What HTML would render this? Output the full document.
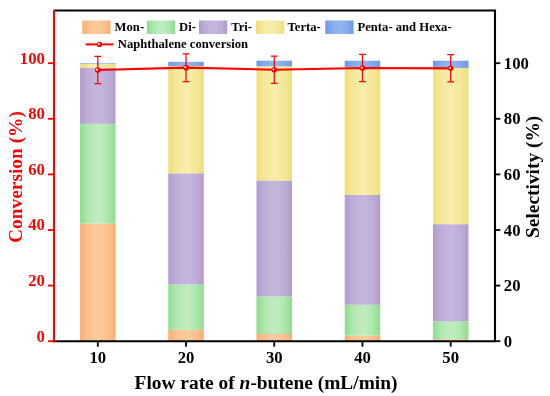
<!DOCTYPE html>
<html><head><meta charset="utf-8"><title>chart</title>
<style>
html,body{margin:0;padding:0;background:#fff;}
svg{display:block;}
text{font-family:"Liberation Serif","Times New Roman",serif;font-weight:bold;}
</style></head><body>
<svg width="550" height="396" viewBox="0 0 550 396">
<defs>
<linearGradient id="go" x1="0" x2="1" y1="0" y2="0"><stop offset="0" stop-color="#FAAD72"/><stop offset="0.2" stop-color="#FBBF8B"/><stop offset="0.43" stop-color="#FCCA9A"/><stop offset="0.57" stop-color="#FCCA9A"/><stop offset="0.8" stop-color="#FBBF8B"/><stop offset="1" stop-color="#FAAD72"/></linearGradient>
<linearGradient id="gg" x1="0" x2="1" y1="0" y2="0"><stop offset="0" stop-color="#8EDC8E"/><stop offset="0.2" stop-color="#ACE6AC"/><stop offset="0.43" stop-color="#BEECBE"/><stop offset="0.57" stop-color="#BEECBE"/><stop offset="0.8" stop-color="#ACE6AC"/><stop offset="1" stop-color="#8EDC8E"/></linearGradient>
<linearGradient id="gp" x1="0" x2="1" y1="0" y2="0"><stop offset="0" stop-color="#B09CCD"/><stop offset="0.2" stop-color="#BDACD6"/><stop offset="0.43" stop-color="#C5B5DC"/><stop offset="0.57" stop-color="#C5B5DC"/><stop offset="0.8" stop-color="#BDACD6"/><stop offset="1" stop-color="#B09CCD"/></linearGradient>
<linearGradient id="gy" x1="0" x2="1" y1="0" y2="0"><stop offset="0" stop-color="#EFDE79"/><stop offset="0.2" stop-color="#F4E796"/><stop offset="0.43" stop-color="#F7EDA7"/><stop offset="0.57" stop-color="#F7EDA7"/><stop offset="0.8" stop-color="#F4E796"/><stop offset="1" stop-color="#EFDE79"/></linearGradient>
<linearGradient id="gb" x1="0" x2="1" y1="0" y2="0"><stop offset="0" stop-color="#6A97E6"/><stop offset="0.2" stop-color="#82A9EC"/><stop offset="0.43" stop-color="#90B4EF"/><stop offset="0.57" stop-color="#90B4EF"/><stop offset="0.8" stop-color="#82A9EC"/><stop offset="1" stop-color="#6A97E6"/></linearGradient>
<radialGradient id="ball" cx="0.36" cy="0.42" r="0.5"><stop offset="0" stop-color="#fff"/><stop offset="0.2" stop-color="#fff"/><stop offset="0.5" stop-color="#f00"/><stop offset="1" stop-color="#f00"/></radialGradient>
</defs>
<rect width="550" height="396" fill="#fff"/>
<rect x="80.05" y="223.61" width="35.50" height="117.59" fill="url(#go)"/>
<rect x="80.05" y="123.80" width="35.50" height="99.80" fill="url(#gg)"/>
<rect x="80.05" y="67.65" width="35.50" height="56.16" fill="url(#gp)"/>
<rect x="80.05" y="63.89" width="35.50" height="3.75" fill="url(#gy)"/>
<rect x="80.05" y="63.20" width="35.50" height="0.69" fill="url(#gb)"/>
<rect x="168.27" y="329.80" width="35.50" height="11.40" fill="url(#go)"/>
<rect x="168.27" y="284.49" width="35.50" height="45.31" fill="url(#gg)"/>
<rect x="168.27" y="173.29" width="35.50" height="111.20" fill="url(#gp)"/>
<rect x="168.27" y="65.98" width="35.50" height="107.31" fill="url(#gy)"/>
<rect x="168.27" y="61.81" width="35.50" height="4.17" fill="url(#gb)"/>
<rect x="256.50" y="333.97" width="35.50" height="7.23" fill="url(#go)"/>
<rect x="256.50" y="296.44" width="35.50" height="37.53" fill="url(#gg)"/>
<rect x="256.50" y="180.52" width="35.50" height="115.93" fill="url(#gp)"/>
<rect x="256.50" y="66.26" width="35.50" height="114.26" fill="url(#gy)"/>
<rect x="256.50" y="60.70" width="35.50" height="5.56" fill="url(#gb)"/>
<rect x="344.73" y="335.64" width="35.50" height="5.56" fill="url(#go)"/>
<rect x="344.73" y="304.78" width="35.50" height="30.86" fill="url(#gg)"/>
<rect x="344.73" y="194.97" width="35.50" height="109.81" fill="url(#gp)"/>
<rect x="344.73" y="67.09" width="35.50" height="127.88" fill="url(#gy)"/>
<rect x="344.73" y="60.70" width="35.50" height="6.39" fill="url(#gb)"/>
<rect x="432.95" y="339.25" width="35.50" height="1.95" fill="url(#go)"/>
<rect x="432.95" y="321.46" width="35.50" height="17.79" fill="url(#gg)"/>
<rect x="432.95" y="224.16" width="35.50" height="97.30" fill="url(#gp)"/>
<rect x="432.95" y="67.93" width="35.50" height="156.24" fill="url(#gy)"/>
<rect x="432.95" y="60.70" width="35.50" height="7.23" fill="url(#gb)"/>
<path d="M54.0 10.5 H495.0 V341.2" fill="none" stroke="#000" stroke-width="2.1" stroke-linejoin="miter"/>
<path d="M53.0 341.2 H496.0" fill="none" stroke="#000" stroke-width="2.1"/>
<path d="M54.0 9.9 V342.2" fill="none" stroke="#f00" stroke-width="2.1"/>
<path d="M48.0 341.20 H54.0" stroke="#f00" stroke-width="1.8"/>
<path d="M495.0 341.20 H500.3" stroke="#000" stroke-width="1.8"/>
<text x="44.9" y="341.60" font-size="16.7" text-anchor="end" fill="#f00">0</text>
<text x="503.8" y="346.70" font-size="16.7" text-anchor="start" fill="#000">0</text>
<path d="M48.0 285.60 H54.0" stroke="#f00" stroke-width="1.8"/>
<path d="M495.0 285.60 H500.3" stroke="#000" stroke-width="1.8"/>
<text x="44.9" y="286.00" font-size="16.7" text-anchor="end" fill="#f00">20</text>
<text x="503.8" y="291.10" font-size="16.7" text-anchor="start" fill="#000">20</text>
<path d="M48.0 230.00 H54.0" stroke="#f00" stroke-width="1.8"/>
<path d="M495.0 230.00 H500.3" stroke="#000" stroke-width="1.8"/>
<text x="44.9" y="230.40" font-size="16.7" text-anchor="end" fill="#f00">40</text>
<text x="503.8" y="235.50" font-size="16.7" text-anchor="start" fill="#000">40</text>
<path d="M48.0 174.40 H54.0" stroke="#f00" stroke-width="1.8"/>
<path d="M495.0 174.40 H500.3" stroke="#000" stroke-width="1.8"/>
<text x="44.9" y="174.80" font-size="16.7" text-anchor="end" fill="#f00">60</text>
<text x="503.8" y="179.90" font-size="16.7" text-anchor="start" fill="#000">60</text>
<path d="M48.0 118.80 H54.0" stroke="#f00" stroke-width="1.8"/>
<path d="M495.0 118.80 H500.3" stroke="#000" stroke-width="1.8"/>
<text x="44.9" y="119.20" font-size="16.7" text-anchor="end" fill="#f00">80</text>
<text x="503.8" y="124.30" font-size="16.7" text-anchor="start" fill="#000">80</text>
<path d="M48.0 63.20 H54.0" stroke="#f00" stroke-width="1.8"/>
<path d="M495.0 63.20 H500.3" stroke="#000" stroke-width="1.8"/>
<text x="44.9" y="63.60" font-size="16.7" text-anchor="end" fill="#f00">100</text>
<text x="503.8" y="68.70" font-size="16.7" text-anchor="start" fill="#000">100</text>
<path d="M97.8 341.2 V346.7" stroke="#000" stroke-width="1.8"/>
<text x="97.8" y="363.40" font-size="16.7" text-anchor="middle" fill="#000">10</text>
<path d="M186.02 341.2 V346.7" stroke="#000" stroke-width="1.8"/>
<text x="186.02" y="363.40" font-size="16.7" text-anchor="middle" fill="#000">20</text>
<path d="M274.25 341.2 V346.7" stroke="#000" stroke-width="1.8"/>
<text x="274.25" y="363.40" font-size="16.7" text-anchor="middle" fill="#000">30</text>
<path d="M362.48 341.2 V346.7" stroke="#000" stroke-width="1.8"/>
<text x="362.48" y="363.40" font-size="16.7" text-anchor="middle" fill="#000">40</text>
<path d="M450.7 341.2 V346.7" stroke="#000" stroke-width="1.8"/>
<text x="450.7" y="363.40" font-size="16.7" text-anchor="middle" fill="#000">50</text>
<polyline points="97.80,70.01 186.02,67.65 274.25,69.76 362.48,68.06 450.70,68.34" fill="none" stroke="#f00" stroke-width="2.1"/>
<path d="M97.8 56.39 V83.63 M94.39999999999999 56.39 H101.2 M94.39999999999999 83.63 H101.2" stroke="#f00" stroke-width="1.25" fill="none"/>
<circle cx="97.8" cy="70.01" r="2.8" fill="url(#ball)"/>
<path d="M186.02 53.75 V81.55 M182.62 53.75 H189.42000000000002 M182.62 81.55 H189.42000000000002" stroke="#f00" stroke-width="1.25" fill="none"/>
<circle cx="186.02" cy="67.65" r="2.8" fill="url(#ball)"/>
<path d="M274.25 56.14 V83.38 M270.85 56.14 H277.65 M270.85 83.38 H277.65" stroke="#f00" stroke-width="1.25" fill="none"/>
<circle cx="274.25" cy="69.76" r="2.8" fill="url(#ball)"/>
<path d="M362.48 54.44 V81.69 M359.08000000000004 54.44 H365.88 M359.08000000000004 81.69 H365.88" stroke="#f00" stroke-width="1.25" fill="none"/>
<circle cx="362.48" cy="68.06" r="2.8" fill="url(#ball)"/>
<path d="M450.7 54.72 V81.97 M447.3 54.72 H454.09999999999997 M447.3 81.97 H454.09999999999997" stroke="#f00" stroke-width="1.25" fill="none"/>
<circle cx="450.7" cy="68.34" r="2.8" fill="url(#ball)"/>
<rect x="82.3" y="20.5" width="28.2" height="13.5" fill="url(#go)"/>
<text x="114.6" y="31.1" font-size="12.65" fill="#000">Mon-</text>
<rect x="146.9" y="20.5" width="28.2" height="13.5" fill="url(#gg)"/>
<text x="179" y="31.1" font-size="12.65" fill="#000">Di-</text>
<rect x="199" y="20.5" width="28.2" height="13.5" fill="url(#gp)"/>
<text x="231.2" y="31.1" font-size="12.65" fill="#000">Tri-</text>
<rect x="256" y="20.5" width="28.2" height="13.5" fill="url(#gy)"/>
<text x="287.6" y="31.1" font-size="12.65" fill="#000">Terta-</text>
<rect x="325.3" y="20.5" width="28.2" height="13.5" fill="url(#gb)"/>
<text x="357.5" y="31.1" font-size="12.65" fill="#000">Penta- and Hexa-</text>
<path d="M85.6 44.4 H113.4" stroke="#f00" stroke-width="2"/>
<circle cx="99.5" cy="44.4" r="2.6" fill="url(#ball)"/>
<text x="117.8" y="48.1" font-size="12.65" fill="#000">Naphthalene conversion</text>
<text x="266.0" y="388.9" font-size="19.4" text-anchor="middle" fill="#000">Flow rate of <tspan font-style="italic">n</tspan>-butene (mL/min)</text>
<text transform="translate(22.4,177) rotate(-90)" font-size="19.4" text-anchor="middle" fill="#f00">Conversion (%)</text>
<text transform="translate(539.2,176.8) rotate(-90)" font-size="19.4" text-anchor="middle" fill="#000">Selectivity (%)</text>
</svg></body></html>
